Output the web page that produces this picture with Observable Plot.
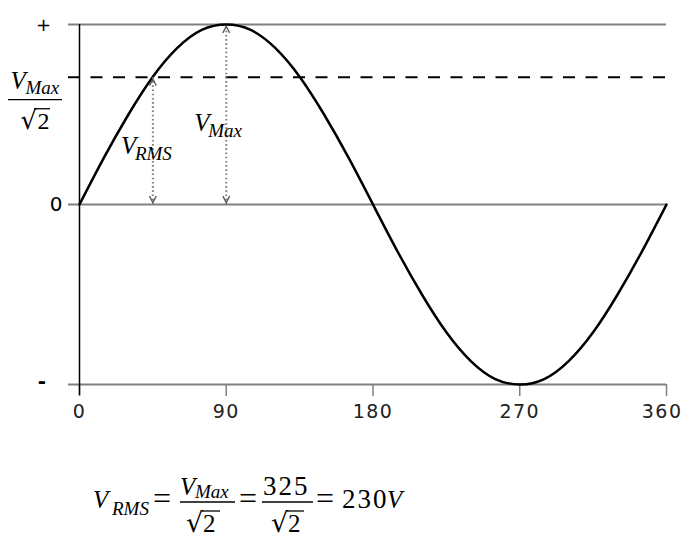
<!DOCTYPE html>
<html>
<head>
<meta charset="utf-8">
<script src="https://cdn.jsdelivr.net/npm/d3@7"></script>
<script src="https://cdn.jsdelivr.net/npm/@observablehq/plot@0.6"></script>
<style>
  body { margin: 0; background: #fff; }
  #chart g[aria-label="x-axis tick label"] text, #chart .lastTick text { letter-spacing: 1.5px; }
  #caption { display: block; }
</style>
</head>
<body>
<div id="chart"></div>
<div id="caption"></div>
<script>
// ---- data ----
const angleDeg = [0, 15, 30, 45, 60, 75, 90, 105, 120, 135, 150, 165, 180,
                  195, 210, 225, 240, 255, 270, 285, 300, 315, 330, 345, 360];
const voltage  = [0, 0.26, 0.5, 0.71, 0.87, 0.97, 1, 0.97, 0.87, 0.71, 0.5, 0.26, 0,
                  -0.26, -0.5, -0.71, -0.87, -0.97, -1, -0.97, -0.87, -0.71, -0.5, -0.26, 0];
const xTicks = [0, 90, 180, 270, 360];
const levelValues = [1, 0, -1];
const levelLabels = ["+", "0", "-"];
const rmsLevel = 0.707;
const arrowX = [45, 90];
const arrowTop = [0.707, 1];
const arrowBase = [0, 0];
const arrowLabelMain = ["V", "V"];
const arrowLabelSub = ["RMS", "Max"];
const arrowLabelY = [0.283, 0.406];
const fractionTop = "V";
const fractionTopSub = "Max";
const fractionBottom = "2";
const captionValue = "325";
const captionResult = "230";
const captionUnit = "V";

// ---- tables ----
const wave = angleDeg.map((a, i) => ({a, v: voltage[i]}));
const levels = levelValues.map((v, i) => ({v, label: levelLabels[i]}));
const arrows = arrowX.map((x, i) => ({x, top: arrowTop[i], base: arrowBase[i],
  main: arrowLabelMain[i], sub: arrowLabelSub[i], ly: arrowLabelY[i]}));
const xMax = xTicks[xTicks.length - 1];

const serif = "Liberation Serif";
const rootFont = "DejaVu Serif";
const sans = "DejaVu Sans";

// open chevron arrowhead, tip at origin pointing down
const chevron = {
  draw(ctx, size) {
    const r = Math.sqrt(size / Math.PI);
    ctx.moveTo(-0.85 * r, -1.6 * r);
    ctx.lineTo(0, 0);
    ctx.lineTo(0.85 * r, -1.6 * r);
  }
};

const plot = Plot.plot({
  width: 684,
  height: 440,
  marginTop: 24,
  marginBottom: 56,
  marginLeft: 79,
  marginRight: 18,
  x: {domain: [0, 360]},
  y: {domain: [-1, 1], axis: null},
  style: {fontFamily: sans, background: "white", overflow: "visible"},
  marks: [
    Plot.ruleY(levels, {y: "v", stroke: "#808080", strokeWidth: 2, insetLeft: -11}),
    Plot.ruleY([rmsLevel], {stroke: "#000", strokeWidth: 2, strokeDasharray: "12,10.5", insetLeft: -11}),
    Plot.axisX(xTicks, {tickSize: 12, stroke: "#808080", strokeWidth: 1.5, tickPadding: 8,
      fontSize: 19, color: "#222", label: null, tickFormat: d => d === xMax ? "" : String(d)}),
    Plot.text([xMax], {x: d => d, text: d => String(d), frameAnchor: "bottom", lineAnchor: "top",
      textAnchor: "end", dx: 16, dy: 20, fontSize: 19, fill: "#222", className: "lastTick"}),
    Plot.ruleX([0], {stroke: "#000", strokeWidth: 1.5, insetBottom: -11}),
    Plot.line(wave, {x: "a", y: "v", curve: "natural", stroke: "#000", strokeWidth: 2.5}),
    Plot.link(arrows, {x1: "x", x2: "x", y1: "base", y2: "top", stroke: "#808080",
      strokeWidth: 2, strokeDasharray: "1.6,2.6"}),
    Plot.dot(arrows, {x: "x", y: "base", symbol: chevron, r: 4, dy: -2, fill: "none",
      stroke: "#555", strokeWidth: 1.3}),
    Plot.dot(arrows, {x: "x", y: "top", symbol: chevron, r: 4, dy: 2, rotate: 180, fill: "none",
      stroke: "#555", strokeWidth: 1.3}),
    // arrow labels
    Plot.text(arrows, {x: "x", y: "ly", text: "main", textAnchor: "start", lineAnchor: "bottom",
      dx: -32, fontFamily: serif, fontStyle: "italic", fontSize: 25, fill: "#000"}),
    Plot.text(arrows, {x: "x", y: "ly", text: "sub", textAnchor: "start", lineAnchor: "bottom",
      dx: -18, dy: 6, fontFamily: serif, fontStyle: "italic", fontSize: 19, fill: "#000"}),
    // level labels
    Plot.text(levels, {filter: d => d.label === "+", y: "v", text: "label", frameAnchor: "left",
      textAnchor: "middle", dx: -36, dy: 1, fontSize: 18, fill: "#000"}),
    Plot.text(levels, {filter: d => d.label === "0", y: "v", text: "label", frameAnchor: "left",
      textAnchor: "middle", dx: -23.5, fontSize: 20, fill: "#000"}),
    Plot.text(levels, {filter: d => d.label === "-", y: "v", text: "label", frameAnchor: "left",
      textAnchor: "middle", dx: -37.5, dy: -3, fontSize: 20, fontWeight: "bold", fill: "#000"}),
    // fraction label V_Max / sqrt(2)
    Plot.text([rmsLevel], {y: d => d, text: () => fractionTop, frameAnchor: "left", textAnchor: "start",
      lineAnchor: "bottom", dx: -69, dy: 11.3, fontFamily: serif, fontStyle: "italic", fontSize: 25, fill: "#000"}),
    Plot.text([rmsLevel], {y: d => d, text: () => fractionTopSub, frameAnchor: "left", textAnchor: "start",
      lineAnchor: "bottom", dx: -54, dy: 16.3, fontFamily: serif, fontStyle: "italic", fontSize: 19, fill: "#000"}),
    Plot.ruleY([rmsLevel], {insetLeft: -71, insetRight: 604, dy: 22.3, stroke: "#000", strokeWidth: 1.3}),
    Plot.text([rmsLevel], {y: d => d, text: () => "\u221A", frameAnchor: "left", textAnchor: "start",
      lineAnchor: "bottom", dx: -59, dy: 51.3, fontFamily: rootFont, fontSize: 26, fill: "#000"}),
    Plot.text([rmsLevel], {y: d => d, text: () => fractionBottom, frameAnchor: "left", textAnchor: "start",
      lineAnchor: "bottom", dx: -42, dy: 51.3, fontFamily: serif, fontSize: 24, fill: "#000"}),
    Plot.ruleY([rmsLevel], {insetLeft: -45, insetRight: 616, dy: 31.5, stroke: "#000", strokeWidth: 1.3})
  ]
});
document.getElementById("chart").append(plot);

// ---- caption: V_RMS = V_Max/sqrt2 = 325/sqrt2 = 230V ----
const cap = d3.select("#caption").append("svg")
  .attr("width", 684).attr("height", 106)
  .style("font-family", serif);
function t(x, y, s, size, italic, extra) {
  const el = cap.append("text").attr("x", x).attr("y", y).attr("font-size", size)
    .attr("font-style", italic ? "italic" : "normal").text(s);
  if (extra) extra(el);
  return el;
}
function bar(x1, x2, y, w) {
  cap.append("line").attr("x1", x1).attr("x2", x2).attr("y1", y).attr("y2", y)
    .attr("stroke", "#000").attr("stroke-width", w);
}
function root(x, y, size) {
  return t(x, y, "\u221A", size, false, el => el.style("font-family", rootFont));
}
t(93, 68, "V", 25, true);
t(112, 75, "RMS", 19, true);
t(153, 69, "=", 32, false);
t(180, 55, fractionTop, 25, true);
t(195, 58, fractionTopSub, 19, true);
bar(180, 235, 62, 1.3);
root(186, 92, 27);
t(203, 92, fractionBottom, 25, false);
bar(202, 220, 71, 1.3);
t(239, 69, "=", 32, false);
t(263, 55, captionValue, 27, false, el => el.attr("letter-spacing", 2));
bar(262, 313, 62, 1.3);
root(271, 92, 27);
t(288, 92, fractionBottom, 25, false);
bar(287, 304, 71, 1.3);
t(316, 69, "=", 32, false);
t(342, 68, captionResult, 27, false, el => el.attr("letter-spacing", 2));
t(387, 68, captionUnit, 25, true);
</script>
</body>
</html>
